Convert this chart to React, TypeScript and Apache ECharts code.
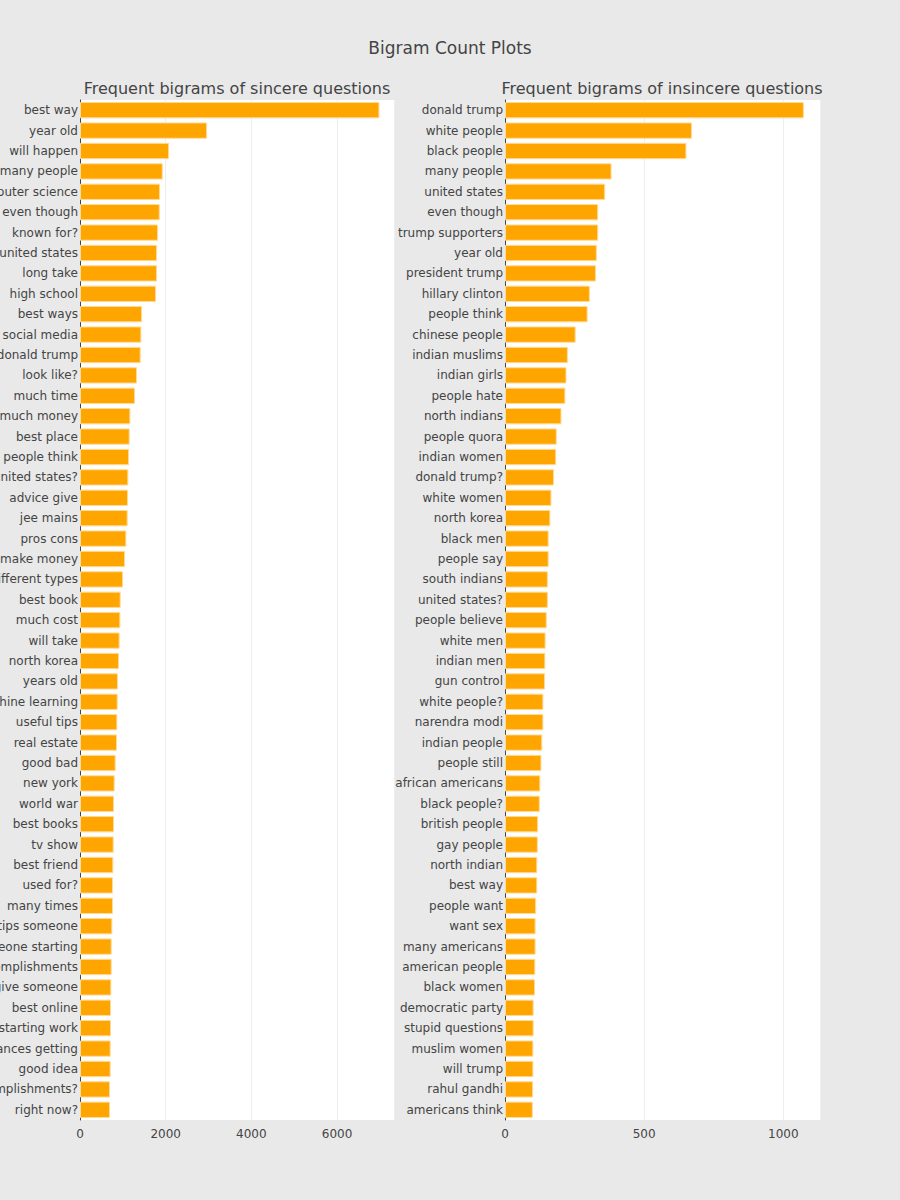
import React, { useEffect, useRef } from "react";
import * as echarts from "echarts";

const sincereBigrams = [
  "best way", "year old", "will happen", "many people", "computer science",
  "even though", "known for?", "united states", "long take", "high school",
  "best ways", "social media", "donald trump", "look like?", "much time",
  "much money", "best place", "people think", "united states?", "advice give",
  "jee mains", "pros cons", "make money", "different types", "best book",
  "much cost", "will take", "north korea", "years old", "machine learning",
  "useful tips", "real estate", "good bad", "new york", "world war",
  "best books", "tv show", "best friend", "used for?", "many times",
  "tips someone", "someone starting", "accomplishments", "give someone", "best online",
  "starting work", "chances getting", "good idea", "accomplishments?", "right now?",
];
const sincereCounts = [
  6990, 2967, 2080, 1932, 1869, 1862, 1822, 1799, 1799, 1776,
  1449, 1433, 1417, 1332, 1285, 1176, 1160, 1145, 1129, 1121,
  1113, 1082, 1051, 1005, 950, 942, 926, 911, 888, 880,
  872, 864, 833, 810, 794, 794, 787, 779, 771, 771,
  755, 740, 740, 732, 724, 724, 716, 716, 701, 701,
];

const insincereBigrams = [
  "donald trump", "white people", "black people", "many people", "united states",
  "even though", "trump supporters", "year old", "president trump", "hillary clinton",
  "people think", "chinese people", "indian muslims", "indian girls", "people hate",
  "north indians", "people quora", "indian women", "donald trump?", "white women",
  "north korea", "black men", "people say", "south indians", "united states?",
  "people believe", "white men", "indian men", "gun control", "white people?",
  "narendra modi", "indian people", "people still", "african americans", "black people?",
  "british people", "gay people", "north indian", "best way", "people want",
  "want sex", "many americans", "american people", "black women", "democratic party",
  "stupid questions", "muslim women", "will trump", "rahul gandhi", "americans think",
];
const insincereCounts = [
  1074, 672, 652, 383, 360, 335, 335, 330, 327, 305,
  297, 254, 226, 221, 217, 203, 186, 184, 176, 167,
  163, 157, 157, 154, 154, 150, 146, 145, 144, 138,
  138, 134, 131, 127, 125, 119, 118, 116, 116, 112,
  110, 110, 109, 108, 103, 103, 102, 102, 101, 100,
];

const mainTitle = "Bigram Count Plots";
const subTitles = ["Frequent bigrams of sincere questions", "Frequent bigrams of insincere questions"];

const FONT = "DejaVu Sans, Verdana, sans-serif";
const TEXT = "#444";

const App: React.FC = () => {
  const chartRef = useRef<HTMLDivElement>(null);

  useEffect(() => {
    document.body.style.margin = "0";
    if (!chartRef.current) return;
    const chart = echarts.init(chartRef.current, undefined, { renderer: "svg" });

    const grids = [
      { left: 80, right: 506, top: 100, bottom: 80 },
      { left: 505, right: 80, top: 100, bottom: 80 },
    ];

    const xAxis = (gridIndex: number, max: number, interval: number) => ({
      type: "value",
      gridIndex,
      min: 0,
      max,
      interval,
      axisLine: { show: false },
      axisTick: { show: false },
      axisLabel: {
        color: TEXT,
        fontSize: 12,
        fontFamily: FONT,
        margin: 8,
        showMaxLabel: false,
        formatter: (v: number) => String(v),
      },
      splitLine: { show: true, lineStyle: { color: "#eee", width: 1 } },
    });

    const yAxis = (gridIndex: number, data: string[]) => ({
      type: "category",
      gridIndex,
      data,
      inverse: true,
      axisLine: { show: true, lineStyle: { color: TEXT, width: 1 } },
      axisTick: { show: false },
      axisLabel: {
        color: TEXT,
        fontSize: 12,
        fontFamily: FONT,
        margin: 2,
        interval: 0,
      },
      splitLine: { show: false },
    });

    const barSeries = (index: number, data: number[]) => ({
      type: "bar",
      xAxisIndex: index,
      yAxisIndex: index,
      data,
      barCategoryGap: "20%",
      itemStyle: {
        color: "#FFA500",
        borderColor: "#ffdb99",
        borderWidth: 1,
      },
    });

    chart.setOption({
      animation: false,
      backgroundColor: "#e9e9e9",
      textStyle: { fontFamily: FONT },
      title: {
        text: mainTitle,
        left: "center",
        top: 34,
        textStyle: { color: TEXT, fontSize: 17, fontWeight: "normal", fontFamily: FONT },
      },
      grid: grids.map((g) => ({
        ...g,
        show: true,
        backgroundColor: "#fff",
        borderWidth: 0,
        containLabel: false,
        outerBoundsMode: "none",
      })),
      xAxis: [xAxis(0, 7330, 2000), xAxis(1, 1132, 500)],
      yAxis: [yAxis(0, sincereBigrams), yAxis(1, insincereBigrams)],
      series: [barSeries(0, sincereCounts), barSeries(1, insincereCounts)],
      graphic: [
        {
          type: "text",
          x: 237,
          y: 88,
          style: {
            text: subTitles[0],
            fill: TEXT,
            font: `16px ${FONT}`,
            textAlign: "center",
            textVerticalAlign: "middle",
          },
        },
        {
          type: "text",
          x: 662,
          y: 88,
          style: {
            text: subTitles[1],
            fill: TEXT,
            font: `16px ${FONT}`,
            textAlign: "center",
            textVerticalAlign: "middle",
          },
        },
      ],
    });

    return () => {
      chart.dispose();
    };
  }, []);

  return <div ref={chartRef} style={{ width: "900px", height: "1200px" }} />;
};

export default App;
